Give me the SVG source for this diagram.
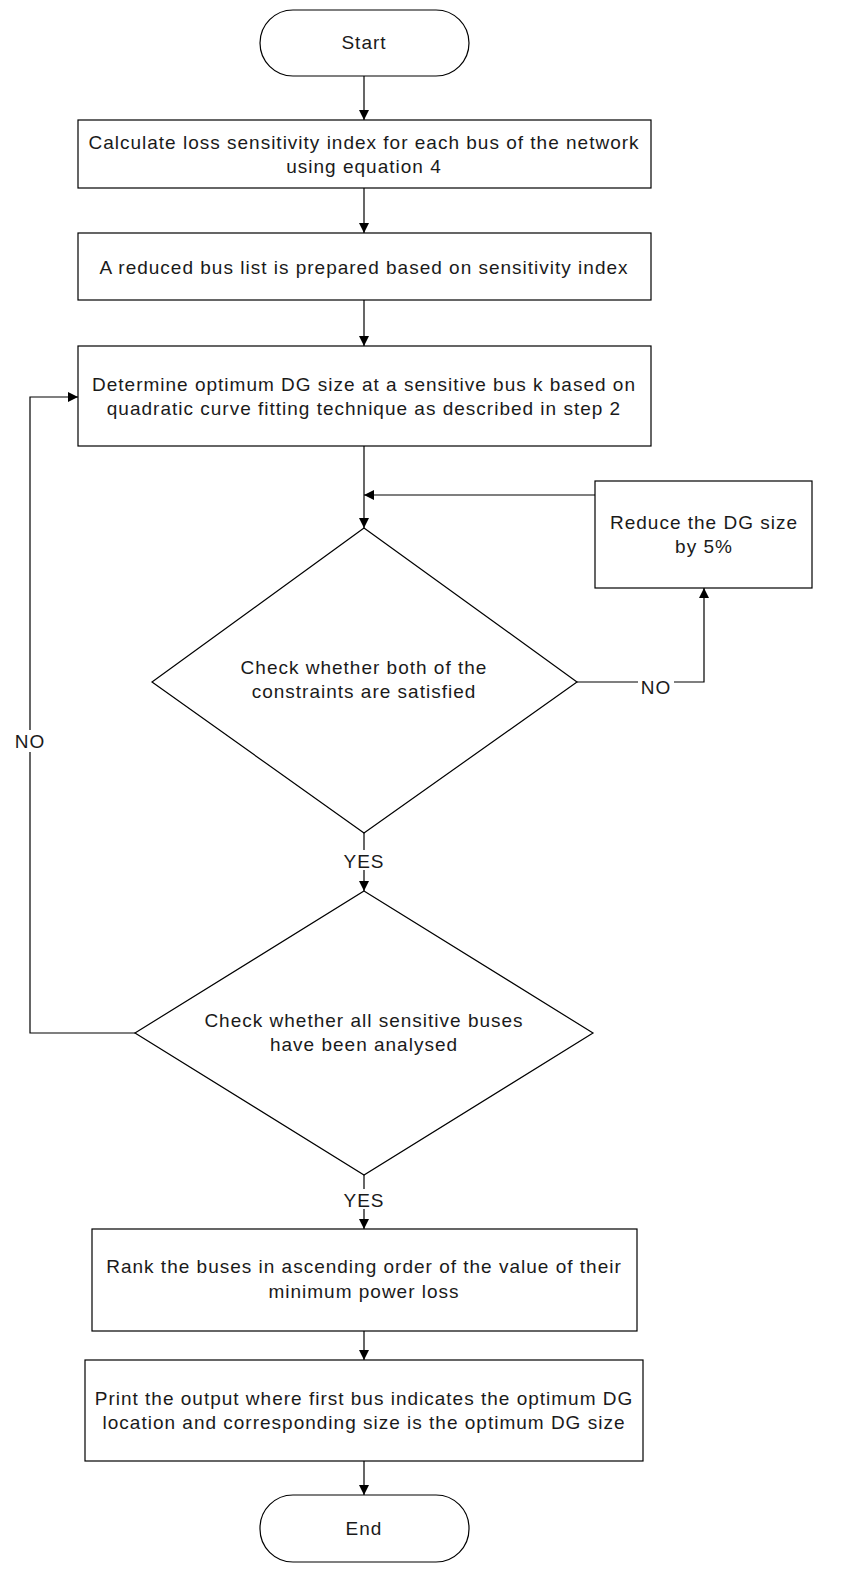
<svg xmlns="http://www.w3.org/2000/svg" width="853" height="1573" viewBox="0 0 853 1573">
<style>
.s{fill:#fff;stroke:#000;stroke-width:1.2}
.l{fill:none;stroke:#000;stroke-width:1.2}
text{font-family:"Liberation Sans",Arial,sans-serif;font-size:19px;letter-spacing:1px;text-anchor:middle;fill:#1a1a1a}
</style>
<defs><marker id="a" markerWidth="10" markerHeight="10" refX="10" refY="5" orient="auto" markerUnits="userSpaceOnUse"><path d="M0,0 L10,5 L0,10 z" fill="#000"/></marker></defs>
<rect width="853" height="1573" fill="#fff"/>
<g id="connectors">
<path class="l" d="M364,76 V120" marker-end="url(#a)"/>
<path class="l" d="M364,188 V233" marker-end="url(#a)"/>
<path class="l" d="M364,300 V346" marker-end="url(#a)"/>
<path class="l" d="M364,446 V528" marker-end="url(#a)"/>
<path class="l" d="M595,495 H364" marker-end="url(#a)"/>
<path class="l" d="M577,682 H704 V588" marker-end="url(#a)"/>
<path class="l" d="M364,833 V891" marker-end="url(#a)"/>
<path class="l" d="M135,1033 H30 V397 H78" marker-end="url(#a)"/>
<path class="l" d="M364,1175 V1229" marker-end="url(#a)"/>
<path class="l" d="M364,1331 V1360" marker-end="url(#a)"/>
<path class="l" d="M364,1461 V1495" marker-end="url(#a)"/>
<rect x="638" y="676" width="36" height="20" fill="#fff"/><text x="656" y="694">NO</text>
<rect x="12" y="730" width="38" height="22" fill="#fff"/><text x="30" y="748">NO</text>
<rect x="338" y="850" width="52" height="20" fill="#fff"/><text x="364" y="868">YES</text>
<rect x="338" y="1189" width="52" height="20" fill="#fff"/><text x="364" y="1207">YES</text>
</g>
<g id="start"><rect class="s" x="260" y="10" width="209" height="66" rx="33"/><text x="364" y="49">Start</text></g>
<g id="n1"><rect class="s" x="78" y="120" width="573" height="68"/><text x="364" y="149">Calculate loss sensitivity index for each bus of the network</text><text x="364" y="173">using equation 4</text></g>
<g id="n2"><rect class="s" x="78" y="233" width="573" height="67"/><text x="364" y="274">A reduced bus list is prepared based on sensitivity index</text></g>
<g id="n3"><rect class="s" x="78" y="346" width="573" height="100"/><text x="364" y="391">Determine optimum DG size at a sensitive bus k based on</text><text x="364" y="415">quadratic curve fitting technique as described in step 2</text></g>
<g id="reduce"><rect class="s" x="595" y="481" width="217" height="107"/><text x="704" y="529">Reduce the DG size</text><text x="704" y="553">by 5%</text></g>
<g id="d1"><polygon class="s" points="364,528 577,682 364,833 152,682"/><text x="364" y="674">Check whether both of the</text><text x="364" y="698">constraints are satisfied</text></g>
<g id="d2"><polygon class="s" points="364,891 593,1033 364,1175 135,1033"/><text x="364" y="1027">Check whether all sensitive buses</text><text x="364" y="1051">have been analysed</text></g>
<g id="n4"><rect class="s" x="92" y="1229" width="545" height="102"/><text x="364" y="1273">Rank the buses in ascending order of the value of their</text><text x="364" y="1298">minimum power loss</text></g>
<g id="n5"><rect class="s" x="85" y="1360" width="558" height="101"/><text x="364" y="1405">Print the output where first bus indicates the optimum DG</text><text x="364" y="1429">location and corresponding size is the optimum DG size</text></g>
<g id="end"><rect class="s" x="260" y="1495" width="209" height="67" rx="33"/><text x="364" y="1535">End</text></g>
</svg>
